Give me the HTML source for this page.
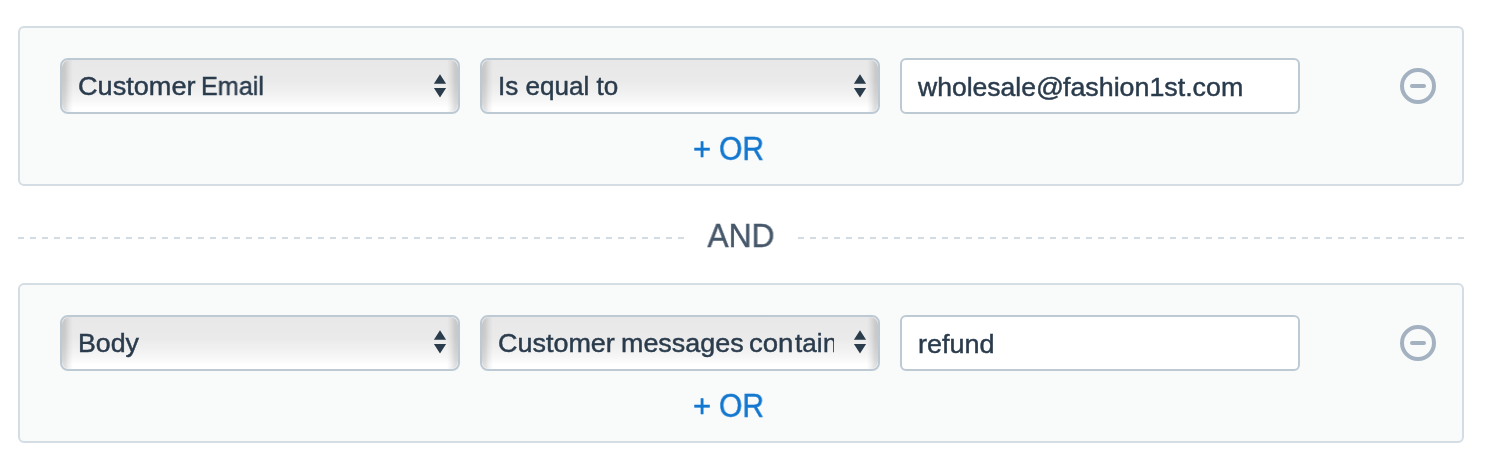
<!DOCTYPE html>
<html>
<head>
<meta charset="utf-8">
<style>
html,body{margin:0;padding:0;background:#fff;}
body{width:1490px;height:470px;position:relative;overflow:hidden;font-family:"Liberation Sans",sans-serif;color:#2a3b4c;}
.box{position:absolute;left:18px;width:1442px;height:156px;border:2px solid #d4dce4;border-radius:6px;background:#f9fafa;}
.sel{position:absolute;top:30px;width:396px;height:52px;border:2px solid #bdc9d3;border-radius:8px;background:#f3f5f7;}
.sel::before{content:"";position:absolute;left:0;top:0;right:0;bottom:0;border-radius:8px;
 background:linear-gradient(to right,rgba(0,0,0,0.145) 0,rgba(0,0,0,0.13) 3px,rgba(0,0,0,0.05) 7px,rgba(0,0,0,0) 11px),
 linear-gradient(to left,rgba(0,0,0,0.145) 0,rgba(0,0,0,0.13) 3px,rgba(0,0,0,0.05) 7px,rgba(0,0,0,0) 11px),
 linear-gradient(to bottom,#e8e8e8 0%,#eaeaea 40%,#f0f0f0 60%,#f7f7f7 78%,#ffffff 92%,#ffffff 100%);}
.t{position:absolute;left:16px;top:0;line-height:52px;font-size:25.6px;white-space:nowrap;color:#2a3b4c;
 transform-origin:0 50%;will-change:transform;-webkit-text-stroke:0.45px #2a3b4c;}
.inp .t{top:1px;}
.clip{position:absolute;left:0;top:0;width:352px;height:52px;overflow:hidden;}
.sel svg{position:absolute;right:11px;top:13px;}
.inp{position:absolute;top:30px;width:396px;height:52px;border:2px solid #bdc9d3;border-radius:6px;background:#fff;}
.or{position:absolute;left:0;top:0;color:#1277cf;white-space:nowrap;}
.or span{position:absolute;line-height:40px;transform-origin:0 50%;will-change:transform;-webkit-text-stroke:0.45px #1277cf;}
.or .p{left:673px;top:100px;font-size:31px;transform:translateY(1.8px);}
.or .o{left:699px;top:100px;font-size:33.2px;transform:translateY(0.9px) scaleX(0.905);}
.minus{position:absolute;left:1378px;top:38px;}
.and{position:absolute;left:0;top:216px;width:1490px;height:40px;}
.and .l{position:absolute;top:21px;height:2px;width:666px;background:repeating-linear-gradient(to right,#d3dbe3 0,#d3dbe3 6px,transparent 6px,transparent 12px);}
.and span{position:absolute;left:707px;top:0;font-size:32.3px;line-height:40px;color:#46576a;
 transform:translate(0.4px,0px) scaleX(0.985);transform-origin:0 50%;will-change:transform;-webkit-text-stroke:0.4px #46576a;}
</style>
</head>
<body>
<div class="box" style="top:26px">
  <div class="sel" style="left:40px"><span class="t" style="transform:scaleX(1.060)">Customer</span><span class="t" style="left:139.2px;transform:scaleX(0.984)">Email</span><svg width="14" height="26" viewBox="0 0 14 26"><path d="M7 1.2 L13.1 10.7 L0.9 10.7 Z M0.9 15.1 L13.1 15.1 L7 24.6 Z" fill="#2a3b4c"/></svg></div>
  <div class="sel" style="left:460px"><span class="t" style="transform:scaleX(1.018)">Is equal to</span><svg width="14" height="26" viewBox="0 0 14 26"><path d="M7 1.2 L13.1 10.7 L0.9 10.7 Z M0.9 15.1 L13.1 15.1 L7 24.6 Z" fill="#2a3b4c"/></svg></div>
  <div class="inp" style="left:880px"><span class="t" style="transform:scaleX(1.036)">wholesale</span><span class="t" style="left:133.5px;transform:scaleX(1.075)">@</span><span class="t" style="left:160.65px;transform:scaleX(1.047)">fashion1st.com</span></div>
  <svg class="minus" width="40" height="40" viewBox="0 0 40 40"><circle cx="20" cy="20" r="16" fill="none" stroke="#a3b1c0" stroke-width="4"/><path d="M14 20 H26" stroke="#a3b1c0" stroke-width="4" stroke-linecap="round"/></svg>
  <div class="or"><span class="p">+</span><span class="o">OR</span></div>
</div>
<div class="and"><div class="l" style="left:18px"></div><span>AND</span><div class="l" style="left:798px"></div></div>
<div class="box" style="top:283px">
  <div class="sel" style="left:40px"><span class="t" style="transform:scaleX(1.045)">Body</span><svg style="top:12px" width="14" height="26" viewBox="0 0 14 26"><path d="M7 1.2 L13.1 10.7 L0.9 10.7 Z M0.9 15.1 L13.1 15.1 L7 24.6 Z" fill="#2a3b4c"/></svg></div>
  <div class="sel" style="left:460px"><div class="clip"><span class="t" style="transform:scaleX(1.053)">Customer</span><span class="t" style="left:138.8px;transform:scaleX(1.051)">messages</span><span class="t" style="left:266.5px;transform:scaleX(1.076)">con</span><span class="t" style="left:312.6px;transform:scaleX(1.016)">tai</span><span class="t" style="left:340.8px;transform:scaleX(1.0)">n</span></div><svg style="top:12px" width="14" height="26" viewBox="0 0 14 26"><path d="M7 1.2 L13.1 10.7 L0.9 10.7 Z M0.9 15.1 L13.1 15.1 L7 24.6 Z" fill="#2a3b4c"/></svg></div>
  <div class="inp" style="left:880px"><span class="t" style="transform:scaleX(1.054)">refund</span></div>
  <svg class="minus" width="40" height="40" viewBox="0 0 40 40"><circle cx="20" cy="20" r="16" fill="none" stroke="#a3b1c0" stroke-width="4"/><path d="M14 20 H26" stroke="#a3b1c0" stroke-width="4" stroke-linecap="round"/></svg>
  <div class="or"><span class="p">+</span><span class="o">OR</span></div>
</div>
</body>
</html>
